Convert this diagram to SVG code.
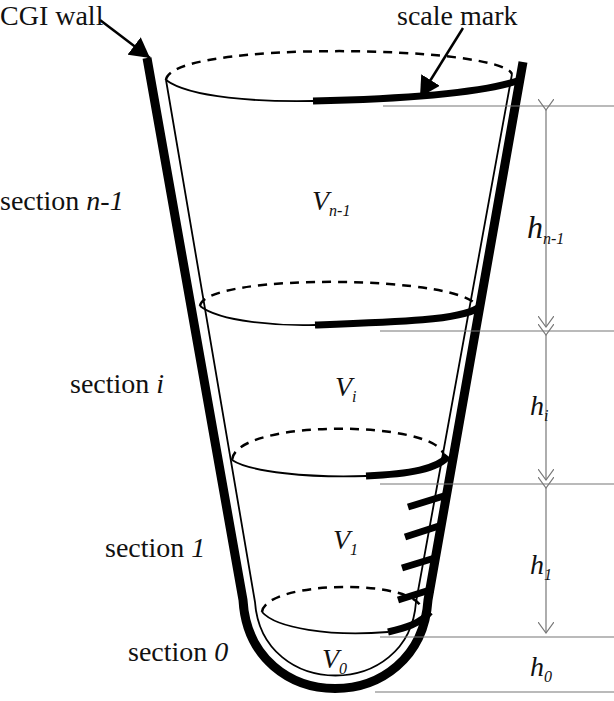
<svg xmlns="http://www.w3.org/2000/svg" width="614" height="701" viewBox="0 0 614 701">
<defs>
<style>
.thin{fill:none;stroke:#000;stroke-width:1.8}
.dash{fill:none;stroke:#000;stroke-width:2.5;stroke-dasharray:9,7}
.mark{fill:none;stroke:#000;stroke-width:7}
.g{stroke:#777;stroke-width:1.2}
</style>
<marker id="ah2" markerWidth="22" markerHeight="22" refX="20" refY="11" orient="auto" markerUnits="userSpaceOnUse"><path d="M0,0 L20,11 L0,22 Z" fill="#000"/></marker>
<marker id="oa" markerWidth="12" markerHeight="16" refX="11" refY="8" orient="auto" markerUnits="userSpaceOnUse"><path d="M0,0 L11,8 L0,16" fill="none" stroke="#777" stroke-width="1.2"/></marker>
</defs>
<g id="vessel">
<path d="M147,58 L243,600 C250,718 420,718 428,600 L523,62" fill="none" stroke="#000" stroke-width="9"/>
<path d="M166,80 L255,602 C262,700 409,700 416,602 L512,74" class="thin"/>
</g>
<g id="section-top">
<path d="M166,80 C170,40 500,45 512,74" class="dash"/>
<path d="M166,80 C190,98 260,102 313,101" class="thin"/>
<path d="M313,101 C400,99 480,94 520,80" class="mark"/>
</g>
<g id="section-n1">
<path d="M200,306 C205,272 470,275 478,308" class="dash"/>
<path d="M200,306 C220,322 280,326 315,325" class="thin"/>
<path d="M315,325 C400,322 460,320 478,308" class="mark"/>
</g>
<g id="section-i">
<path d="M232,460 C236,418 440,420 444,456" class="dash"/>
<path d="M232,460 C250,472 310,478 366,476" class="thin"/>
<path d="M366,476 C410,474 438,469 448,456" class="mark"/>
</g>
<g id="section-0">
<path d="M262,612 C266,580 418,578 422,610" class="dash"/>
<path d="M262,612 C276,628 330,637 388,632" class="thin"/>
<path d="M388,632 C405,628 420,624 430,612" class="mark"/>
</g>
<g id="ticks" class="mark">
<path d="M408,507 L447,495"/>
<path d="M405,537 L442,525"/>
<path d="M402,568 L438,557"/>
<path d="M398,600 L433,589"/>
</g>
<g id="connectors">
<line x1="383" y1="106" x2="614" y2="106" class="g"/>
<line x1="380" y1="331" x2="614" y2="331" class="g"/>
<line x1="380" y1="484" x2="614" y2="484" class="g"/>
<line x1="380" y1="637" x2="614" y2="637" class="g"/>
<line x1="375" y1="692" x2="614" y2="692" class="g"/>
<line x1="546" y1="110" x2="546" y2="327" class="g" marker-start="url(#oa)" marker-end="url(#oa)"/>
<line x1="546" y1="335" x2="546" y2="480" class="g" marker-start="url(#oa)" marker-end="url(#oa)"/>
<line x1="546" y1="488" x2="546" y2="633" class="g" marker-start="url(#oa)" marker-end="url(#oa)"/>
<line x1="100" y1="20" x2="150" y2="58" stroke="#000" stroke-width="2.5" marker-end="url(#ah2)"/>
<line x1="463" y1="28" x2="420" y2="97" stroke="#000" stroke-width="2.5" marker-end="url(#ah2)"/>
</g>
<g id="labels" font-family="Liberation Serif, DejaVu Serif, serif" font-size="28" fill="#111">
<text x="0" y="25">CGI wall</text>
<text x="397" y="25">scale mark</text>
<text x="0" y="210">section <tspan font-style="italic">n-1</tspan></text>
<text x="70" y="393">section <tspan font-style="italic">i</tspan></text>
<text x="105" y="557">section <tspan font-style="italic">1</tspan></text>
<text x="128" y="661">section <tspan font-style="italic">0</tspan></text>
<g font-style="italic">
<text x="312" y="210">V<tspan font-size="16" dy="6">n-1</tspan></text>
<text x="335" y="396">V<tspan font-size="16" dy="6">i</tspan></text>
<text x="333" y="549">V<tspan font-size="16" dy="6">1</tspan></text>
<text x="322" y="668">V<tspan font-size="16" dy="6">0</tspan></text>
<text x="527" y="238" font-size="32">h<tspan font-size="16" dy="6">n-1</tspan></text>
<text x="530" y="415">h<tspan font-size="16" dy="6">i</tspan></text>
<text x="530" y="574">h<tspan font-size="16" dy="6">1</tspan></text>
<text x="530" y="676">h<tspan font-size="16" dy="6">0</tspan></text>
</g>
</g>
</svg>
